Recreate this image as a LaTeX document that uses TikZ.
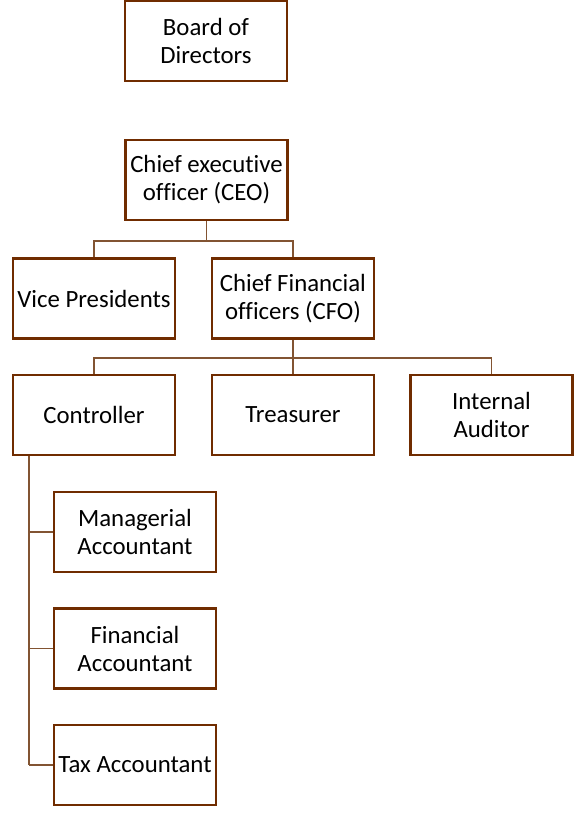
\documentclass[tikz,border=0pt]{standalone}
\usepackage{fontspec}
\setmainfont[Ligatures=NoCommon]{Carlito}
\usetikzlibrary{calc}
\definecolor{boxbrown}{RGB}{112,44,0}
\definecolor{linebrown}{RGB}{130,84,50}

\begin{document}
\begin{tikzpicture}[x=1pt, y=-1pt,
		post/.style={draw=boxbrown, line width=2.2pt, fill=white, minimum width=162pt, minimum height=80pt, inner sep=0pt, align=center, font=\fontsize{24.8}{28}\selectfont},
		link/.style={draw=linebrown, line width=1.3pt}]
		\useasboundingbox (0,0) rectangle (574,816);
		
		% top of the chart
		\node[post] (Board) at (206,41) {Board of\\Directors};
		\node[post] (CEO) at (206.5,180) {Chief executive\\officer (CEO)};
		
		% second row
		\node[post] (VP) at (94,298.5) {Vice Presidents};
		\node[post] (CFO) at (293,298.5) {Chief Financial\\officers (CFO)};
		
		% third row
		\node[post] (Ctrl) at (94,415) {Controller};
		\node[post] (Treas) at (293,415) {Treasurer};
		\node[post] (Audit) at (491.5,415) {Internal\\Auditor};
		
		% under the controller
		\node[post] (Mgr) at (135,532) {Managerial\\Accountant};
		\node[post] (Fin) at (135,648.5) {Financial\\Accountant};
		\node[post] (Tax) at (135,765) {Tax Accountant};
		
		\coordinate (CEObar) at (0,241);
		\coordinate (CFObar) at (0,358);
		\coordinate (Spine) at (29,0);
		
		\draw[link] (CEO.south) -- (CEO.south |- CEObar);
		\foreach \n in {VP, CFO}{
			\draw[link] (CEO.south |- CEObar) -| (\n.north);
		}
		
		\draw[link] (CFO.south) -- (CFO.south |- CFObar);
		\foreach \n in {Ctrl, Treas, Audit}{
			\draw[link] (CFO.south |- CFObar) -| (\n.north);
		}
		
		\draw[link] (Ctrl.south -| Spine) -- (Spine |- Tax.west);
		\foreach \n in {Mgr, Fin, Tax}{
			\draw[link] (Spine |- \n.west) -- (\n.west);
		}
		
	\end{tikzpicture}
\end{document}
